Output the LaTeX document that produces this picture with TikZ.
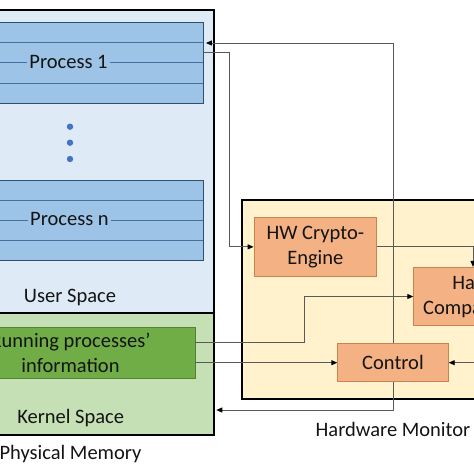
\documentclass[tikz,border=0pt]{standalone}
\usepackage{fontspec}
\setmainfont{Carlito}
\usetikzlibrary{arrows.meta,calc}
\definecolor{userfill}{HTML}{DEEBF7}
\definecolor{kernfill}{HTML}{C5E0B4}
\definecolor{procfill}{HTML}{9DC3E6}
\definecolor{procdraw}{HTML}{2F4F6F}
\definecolor{procline}{HTML}{41719C}
\definecolor{runfill}{HTML}{70AD47}
\definecolor{rundraw}{HTML}{548235}
\definecolor{hwfill}{HTML}{FFF2CC}
\definecolor{orfill}{HTML}{F4B183}
\definecolor{ordraw}{HTML}{C9834F}
\definecolor{dotblue}{HTML}{4472C4}
\definecolor{linegray}{HTML}{595959}
\definecolor{txt}{HTML}{141414}
\begin{document}
\begin{tikzpicture}[x=1pt,y=-1pt,
  font=\fontsize{20.5}{25}\selectfont,
  every node/.style={text=txt},
  box/.style={draw, rectangle, inner sep=0pt, align=center},
  membox/.style={box, draw=black, line width=1.6pt, minimum width=287pt},
  procbox/.style={box, fill=procfill, draw=procdraw, line width=0.8pt, minimum width=265pt, minimum height=81pt},
  proctext/.style={fill=procfill, inner sep=2pt},
  innerline/.style={draw=procline, line width=0.8pt},
  orbox/.style={box, fill=orfill, draw=ordraw, line width=0.8pt},
  conn/.style={draw=linegray, line width=0.9pt},
  arr/.style={conn, -{Triangle[length=6pt,width=5pt,color=black]}},
  lbl/.style={inner sep=0pt}
]
\useasboundingbox (0,0) rectangle (474,474);
\clip (0,0) rectangle (474,474);

% Physical memory
\node[membox, fill=userfill, minimum height=302.7pt] (user) at (70.5,161.35) {};
\node[membox, fill=kernfill, minimum height=122pt] (kern) at (70.5,373.7) {};

% Process boxes
\node[procbox] (p1) at (70.5,62.5) {};
\node[procbox, minimum height=80.7pt] (pn) at (70.5,220.35) {};
\foreach \p in {p1,pn}{
  \foreach \f in {0.25,0.5,0.75}{
    \draw[innerline] ($(\p.north west)!\f!(\p.south west)$) -- ($(\p.north east)!\f!(\p.south east)$);
  }
}
\node[proctext] (p1t) at ($(p1.center)+(-2,-1)$) {Process 1};
\node[proctext] (pnt) at ($(pn.center)+(-1,-1)$) {Process n};

% dots
\foreach \yy in {126.7,142.7,159}{
  \fill[dotblue] (70,\yy) circle (3.2pt);
}

\node[lbl] (ulbl) at (70,297.5) {User Space};

% Running processes
\node[box, fill=runfill, draw=rundraw, line width=0.8pt, minimum width=249pt, minimum height=51.4pt] (rp) at (70.5,353) {Running processes’\\information};
\node[lbl] (klbl) at (70.7,418.5) {Kernel Space};
\node[lbl] (pmlbl) at (70.5,454) {Physical Memory};

% Hardware monitor
\node[box, fill=hwfill, draw=black, line width=1.6pt, minimum width=318pt, minimum height=198.7pt] (hw) at (401,299.35) {};
\node[lbl] (hwlbl) at (393,429.5) {Hardware Monitor};

\node[orbox, minimum width=122.7pt, minimum height=58.3pt] (crypto) at (315.35,246.85) {HW Crypto-\\Engine};
\node[orbox, minimum width=118.6pt, minimum height=58.4pt] (hash) at (473,296.5) {Hash\\Comparator};
\node[orbox, minimum width=110.6pt, minimum height=38pt] (control) at (393,362.7) {Control};

% connectors
\draw[arr] (control.north) |- ($(p1.east)+(2.5,-19.5)$);
\draw[arr] (control.south) |- ($(kern.east)+(1.5,36.3)$);
\draw[arr] ($(p1.east)+(0,-10.2)$) -- ++(26.3,0) |- (crypto.west);
\draw[arr] (crypto.east) -| (hash.north);
\draw[arr] ($(rp.east)+(0,-10.7)$) -- ++(109,0) |- (hash.west);
\draw[arr] (rp.east |- control.west) -- (control.west);
\draw[arr] (hash.east) -- ++(10,0) |- (control.east);
\end{tikzpicture}
\end{document}
